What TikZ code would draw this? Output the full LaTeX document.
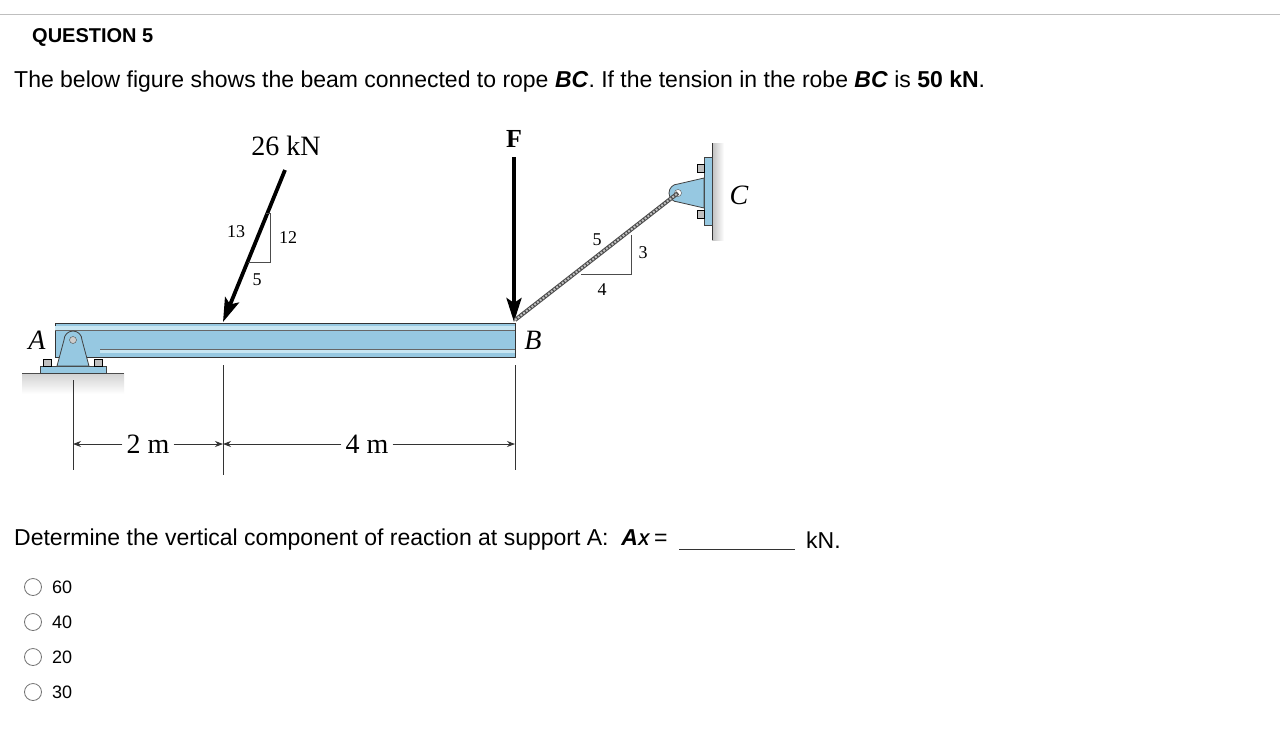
\documentclass[tikz,border=0pt]{standalone}
\usepackage{fontspec}
\setsansfont{Liberation Sans}
\newfontfamily\tnr{Liberation Serif}
\usetikzlibrary{arrows.meta}
\definecolor{beamblue}{RGB}{150,200,225}
\definecolor{lightblue}{RGB}{200,230,242}
\begin{document}
\begin{tikzpicture}[x=1pt,y=-1pt,
  sans/.style={font=\sffamily\fontsize{23}{26}\selectfont,anchor=west,inner sep=0},
  lbl/.style={font=\tnr\fontsize{28}{30}\selectfont,inner sep=0},
  small/.style={font=\tnr\fontsize{18}{21}\selectfont,inner sep=0},
  steel/.style={fill=beamblue,draw=black!75,line width=0.8pt},
  dim/.style={draw=black!80,line width=0.8pt},
  force/.style={line width=3.8pt,-{Stealth[length=24pt,width=15pt,inset=5pt]}},
  opt/.style={circle,draw=black!55,minimum size=17pt,inner sep=0,line width=0.8pt}]
\useasboundingbox (0,0) rectangle (1280,740);
\fill[white] (0,0) rectangle (1280,740);
\draw[black!25] (0,14) -- (1280,14);
\node[sans,font=\sffamily\bfseries\fontsize{20}{24}\selectfont] (q) at (32,37) {QUESTION 5};
\node[sans] (t1) at (14,82) {The below figure shows the beam connected to rope \textbf{\textit{BC}}. If the tension in the robe \textbf{\textit{BC}} is \textbf{50 kN}.};
% ground shadow at A
\shade[top color=black!18,bottom color=white] (22,373) rectangle (124,394);
\draw[black!70] (22,373) -- (124,373);
% beam
\draw[fill=beamblue,draw=black!80,line width=1pt] (55,323) rectangle (515,357);
\fill[lightblue] (55,326) rectangle (515,330);
\fill[lightblue] (100,349) rectangle (515,353);
\draw[black!60] (55,330)--(515,330) (100,349)--(515,349);
% support A
\draw[steel] (40,366) rectangle (106,373);
\draw[steel] (57,366) -- (64,340) arc (180:360:9) -- (89,366) -- cycle;
\draw[fill=white!80!black,draw=black!70] (73,340) circle (3.5);
\foreach \bx in {47,98}{\draw[fill=black!25] (\bx-4,359) rectangle (\bx+4,366);}
\node[lbl,font=\tnr\itshape\fontsize{28}{30}\selectfont] (A) at (37,340) {A};
% dimensions
\coordinate (d1t) at (73,380); \coordinate (d1b) at (73,470);
\coordinate (d2t) at (223,365); \coordinate (d2b) at (223,475);
\coordinate (d3t) at (515,365); \coordinate (d3b) at (515,470);
\draw[dim] (d1t)--(d1b) (d2t)--(d2b) (d3t)--(d3b);
\node[lbl,fill=white,inner sep=4pt] (m2) at (148,444) {2 m};
\node[lbl,fill=white,inner sep=4pt] (m4) at (367,444) {4 m};
\draw[dim,-{Stealth[length=8pt]}] (m2.west) -- (d1b|-m2);
\draw[dim,-{Stealth[length=8pt]}] (m2.east) -- (d2b|-m2);
\draw[dim,-{Stealth[length=8pt]}] (m4.west) -- (d2b|-m4);
\draw[dim,-{Stealth[length=8pt]}] (m4.east) -- (d3b|-m4);
% 26 kN force
\coordinate (f1s) at (285,170); \coordinate (f1e) at (223,322);
\draw[force] (f1s) -- (f1e);
\draw[black!70,line width=0.8pt] (266,213)--(270,213)--(270,262)--(248,262);
\node[lbl] (kn) at (286,146) {26 kN};
\node[small] (n13) at (236,232) {13};
\node[small] (n12) at (288,238) {12};
\node[small] (n5) at (257,280) {5};
% F
\coordinate (Fs) at (514,157); \coordinate (Fe) at (514,322);
\draw[force] (Fs) -- (Fe);
\node[lbl,font=\tnr\bfseries\fontsize{26}{28}\selectfont] (F) at (514,139) {F};
\node[lbl,font=\tnr\itshape\fontsize{28}{30}\selectfont] (B) at (533,340) {B};
% wall C
\shade[left color=black!25,right color=white] (712,143) rectangle (724,240);
\draw[black!80,line width=1pt] (712,143) -- (712,240);
\draw[steel] (704,157) rectangle (712,225);
\draw[steel] (704,178) -- (678,184) arc (270:90:9) -- (704,208) -- cycle;
\foreach \by in {168,214}{\draw[fill=black!25] (697,\by-4) rectangle (704,\by+4);}
\coordinate (Cp) at (678,193);
\draw[fill=white,draw=black!70] (Cp) circle (3.5);
\node[lbl,font=\tnr\itshape\fontsize{28}{30}\selectfont] (C) at (739,195) {C};
% rope
\coordinate (Bp) at (515,320);
\draw[black!70,line width=4pt] (Bp) -- (Cp);
\draw[white!75!black,line width=2pt,dash pattern=on 2pt off 1.5pt] (Bp) -- (Cp);
\draw[black!70,line width=0.8pt] (581,274)--(631,274)--(631,235);
\node[small] (r5) at (597,240) {5};
\node[small] (r3) at (643,253) {3};
\node[small] (r4) at (602,290) {4};
% question
\node[sans] (t2) at (14,540) {Determine the vertical component of reaction at support A: \ \textbf{\textit{A}}{\fontsize{17}{18}\selectfont\textbf{\textit{X}}}\,=};
\coordinate (b1) at (679,549); \coordinate (b2) at (795,549);
\draw[black!80,line width=0.8pt] (b1) -- (b2);
\node[sans] (kN) at (806,540) {kN.};
\foreach \yy/\vv/\nm in {587/60/o1,622/40/o2,657/20/o3,692/30/o4}{
  \node[opt] (\nm) at (33,\yy) {};
  \node[sans,font=\sffamily\fontsize{18}{20}\selectfont] (\nm t) at (52,\yy) {\vv};
}
\end{tikzpicture}
\end{document}
